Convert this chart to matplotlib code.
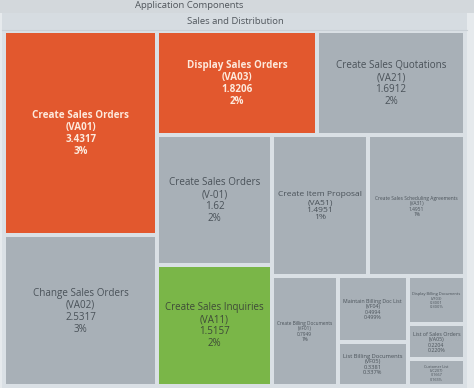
import matplotlib.pyplot as plt
from matplotlib.patches import Rectangle

plt.rcParams['font.family'] = ['Open Sans', 'DejaVu Sans']

# data, sorted by value (largest first) as the treemap needs
names = ["Create Sales Orders", "Change Sales Orders", "Display Sales Orders",
         "Create Sales Quotations", "Create Sales Orders", "Create Sales Inquiries",
         "Create Item Proposal", "Create Sales Scheduling Agreements",
         "Create Billing Documents", "Maintain Billing Doc List",
         "List Billing Documents", "Display Billing Documents",
         "List of Sales Orders", "Customer List"]
codes = ["VA01", "VA02", "VA03", "VA21", "V-01", "VA11", "VA51", "VA31",
         "VF01", "VF04", "VF05", "VF03", "VA05", "VC207"]
values = [3.4317, 2.5317, 1.8206, 1.6912, 1.62, 1.5157, 1.4951, 1.4951,
          0.7949, 0.4994, 0.3381, 0.3001, 0.2204, 0.1667]
pcts = ["3%", "3%", "2%", "2%", "2%", "2%", "1%", "1%",
        "1%", "0.499%", "0.337%", "0.300%", "0.220%", "0.165%"]

highlight = {"VA01": "#e2582e", "VA03": "#e2582e", "VA11": "#7ab648"}
text_col = {"VA01": "#fde9dc", "VA03": "#fde9dc", "VA11": "#3e4a38"}
gray = "#a8b0b7"


def worst(row, side):
    s = sum(row)
    return max(max(side * side * r / (s * s), s * s / (side * side * r)) for r in row)


def squarify(areas, x, y, w, h):
    rects = []
    i = 0
    while i < len(areas):
        side = min(w, h)
        row = [areas[i]]
        i += 1
        while i < len(areas) and worst(row + [areas[i]], side) <= worst(row, side):
            row.append(areas[i])
            i += 1
        s = sum(row)
        if w >= h:
            cw = s / h
            yy = y
            for a in row:
                rects.append((x, yy, cw, a / cw))
                yy += a / cw
            x += cw
            w -= cw
        else:
            rh = s / w
            xx = x
            for a in row:
                rects.append((xx, y, a / rh, rh))
                xx += a / rh
            y += rh
            h -= rh
    return rects


W, H = 474, 388
fig = plt.figure(figsize=(W / 100, H / 100), dpi=100)
ax = fig.add_axes([0, 0, 1, 1])
ax.set_xlim(0, W)
ax.set_ylim(H, 0)
ax.axis("off")
fig.patch.set_facecolor("#e6eaed")

# header bands
ax.add_patch(Rectangle((0, 0), W, 13, facecolor="#d3d8dc", edgecolor="none"))
ax.add_patch(Rectangle((2, 13), 465, H - 13, facecolor="#dae0e5", edgecolor="none"))
ax.add_patch(Rectangle((2, 13), 465, 17, facecolor="#d6dce1", edgecolor="none"))
ax.plot([2, 467], [30, 30], color="#c9d0d6", lw=0.8)
ax.text(189, 5, "Application Components", ha="center", va="center",
        fontsize=6.8, color="#50565c")
ax.text(235, 22, "Sales and Distribution", ha="center", va="center",
        fontsize=6.8, color="#50565c")

# treemap area
x0, y0, x1, y1 = 4, 31, 465, 386
total = sum(values)
areas = [v / total * (x1 - x0) * (y1 - y0) for v in values]
rects = squarify(areas, x0, y0, x1 - x0, y1 - y0)

renderer = fig.canvas.get_renderer()
pad = 2
base = 7.1
for (rx, ry, rw, rh), name, code, v, p in zip(rects, names, codes, values, pcts):
    fc = highlight.get(code, gray)
    ax.add_patch(Rectangle((rx + pad, ry + pad), rw - 2 * pad, rh - 2 * pad,
                           facecolor=fc, edgecolor="none"))
    bold = code in ("VA01", "VA03")
    t = ax.text(rx + rw / 2, ry + rh / 2 + 0.5, f"{name}\n({code})\n{v}\n{p}",
                ha="center", va="center", multialignment="center",
                fontsize=base, color=text_col.get(code, "#4a5259"),
                fontweight="bold" if bold else "normal", linespacing=1.12)
    bb = t.get_window_extent(renderer)
    scale = min(1.0, 0.9 * (rw - 2 * pad) / bb.width, 0.8 * (rh - 2 * pad) / bb.height)
    t.set_fontsize(base * scale)

fig.savefig("out.png", dpi=100)
